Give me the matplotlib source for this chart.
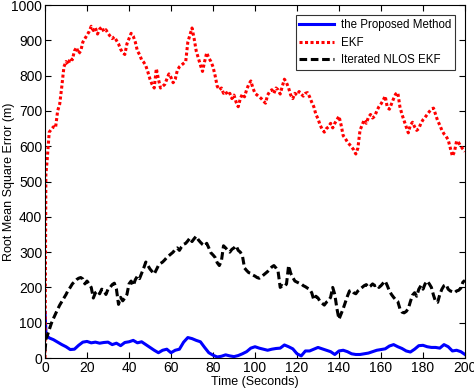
import numpy as np
import matplotlib
matplotlib.use("Agg")
import matplotlib.pyplot as plt

plt.rcParams['font.family'] = ['Liberation Sans', 'DejaVu Sans']

# ---------------- data ----------------
ekf_t = [0, 0.4] + list(range(1, 201))
ekf_v = [0, 520,
         560, 640, 648, 655, 652, 700, 720, 770, 825, 840,
         832, 850, 845, 870, 880, 862, 870, 895, 905, 915,
         925, 940, 928, 935, 918, 932, 938, 925, 930, 920,
         912, 905, 910, 900, 890, 875, 865, 860, 890, 905,
         920, 912, 895, 870, 860, 845, 838, 828, 810, 790,
         775, 765, 820, 790, 765, 770, 775, 790, 805, 795,
         780, 790, 815, 825, 830, 835, 840, 895, 915, 935,
         905, 870, 850, 830, 812, 840, 865, 850, 840, 825,
         800, 770, 760, 765, 750, 755, 745, 750, 735, 745,
         725, 712, 735, 748, 740, 760, 775, 785, 765, 750,
         745, 740, 735, 728, 722, 745, 755, 760, 750, 765,
         760, 748, 770, 790, 780, 765, 745, 735, 750, 745,
         755, 748, 742, 750, 752, 740, 725, 712, 690, 678,
         660, 648, 640, 650, 655, 665, 652, 665, 675, 685,
         660, 630, 622, 612, 605, 598, 590, 578, 595, 645,
         660, 675, 665, 682, 690, 680, 685, 700, 712, 720,
         730, 742, 710, 705, 720, 735, 748, 752, 712, 690,
         672, 655, 638, 660, 668, 655, 645, 650, 665, 675,
         682, 690, 698, 705, 708, 690, 672, 660, 645, 635,
         628, 618, 595, 572, 585, 615, 610, 600, 592, 585]

nlos_t = [0, 0.5] + list(range(1, 201))
nlos_v = [20, 55,
          62, 80, 98, 112, 125, 138, 150, 160, 170, 180,
          192, 200, 210, 216, 222, 226, 228, 224, 210, 218,
          210, 200, 170, 185, 190, 182, 195, 192, 180, 195,
          200, 208, 212, 195, 152, 172, 162, 170, 180, 210,
          218, 205, 222, 232, 225, 240, 255, 272, 262, 252,
          245, 238, 250, 262, 268, 272, 278, 285, 290, 295,
          300, 308, 312, 305, 315, 322, 325, 332, 340, 330,
          338, 345, 335, 328, 322, 318, 325, 312, 298, 292,
          285, 270, 262, 275, 318, 312, 305, 300, 308, 312,
          318, 305, 300, 290, 255, 248, 242, 240, 235, 232,
          228, 226, 230, 235, 240, 245, 252, 258, 262, 255,
          245, 200, 205, 202, 210, 262, 240, 228, 218, 215,
          212, 210, 205, 202, 198, 195, 185, 165, 175, 170,
          160, 155, 150, 158, 162, 172, 200, 180, 140, 110,
          125, 140, 158, 175, 190, 192, 185, 182, 190, 195,
          200, 205, 208, 200, 204, 210, 205, 208, 200, 205,
          212, 218, 205, 190, 180, 172, 165, 160, 140, 130,
          128, 132, 140, 160, 178, 185, 175, 195, 205, 195,
          210, 218, 210, 200, 178, 160, 158, 180, 195, 205,
          208, 195, 190, 188, 185, 190, 192, 198, 215, 220]

prop_t = [0, 0.5] + list(range(2, 201, 2))
prop_v = [130, 65,
          57, 52, 45, 38, 32, 24, 25, 36, 45, 47,
          43, 45, 42, 44, 45, 38, 42, 35, 44, 46,
          50, 43, 46, 38, 30, 22, 15, 22, 25, 15,
          22, 25, 45, 58, 55, 50, 46, 30, 15, 8,
          3, 5, 9, 6, 4, 7, 12, 18, 28, 32,
          28, 25, 22, 25, 27, 28, 37, 32, 26, 12,
          6, 20, 20, 25, 30, 26, 22, 18, 10, 20,
          22, 18, 12, 10, 10, 12, 14, 18, 22, 24,
          26, 34, 38, 32, 27, 20, 17, 25, 35, 36,
          32, 30, 30, 28, 38, 32, 20, 22, 18, 10]

labels = ['the Proposed Method', 'EKF', 'Iterated NLOS EKF']
xticks = list(range(0, 201, 20))
yticks = list(range(0, 1001, 100))

# ---------------- plot ----------------
fig = plt.figure(figsize=(4.74, 3.90), dpi=100)
ax = fig.add_axes([0.095, 0.082, 0.886, 0.905])

ax.plot(prop_t, prop_v, color='#0000ff', lw=2.2, ls='-', label=labels[0])
ax.plot(ekf_t, ekf_v, color='#ff0000', lw=2.2, ls=(0, (1, 0.8)), label=labels[1])
ax.plot(nlos_t, nlos_v, color='black', lw=2.2, ls=(0, (2.5, 1.2)), label=labels[2])

ax.set_xlim(0, 200)
ax.set_ylim(0, 1000)
ax.set_xticks(xticks)
ax.set_yticks(yticks)
ax.tick_params(direction='in', top=True, right=True, labelsize=10, length=4, width=0.8, pad=2)
for s in ax.spines.values():
    s.set_linewidth(0.8)

ax.set_xlabel('Time (Seconds)', fontsize=9, labelpad=1)
ax.set_ylabel('Root Mean Square Error (m)', fontsize=9)
ax.yaxis.set_label_coords(-0.071, 0.5)

leg = ax.legend(loc='upper right', fontsize=8.3, frameon=True, fancybox=False,
                edgecolor='black', borderaxespad=0.9, handlelength=3.0,
                borderpad=0.3, labelspacing=0.5, handletextpad=0.6)
leg.get_frame().set_linewidth(0.8)

fig.savefig('out.png', dpi=100)
